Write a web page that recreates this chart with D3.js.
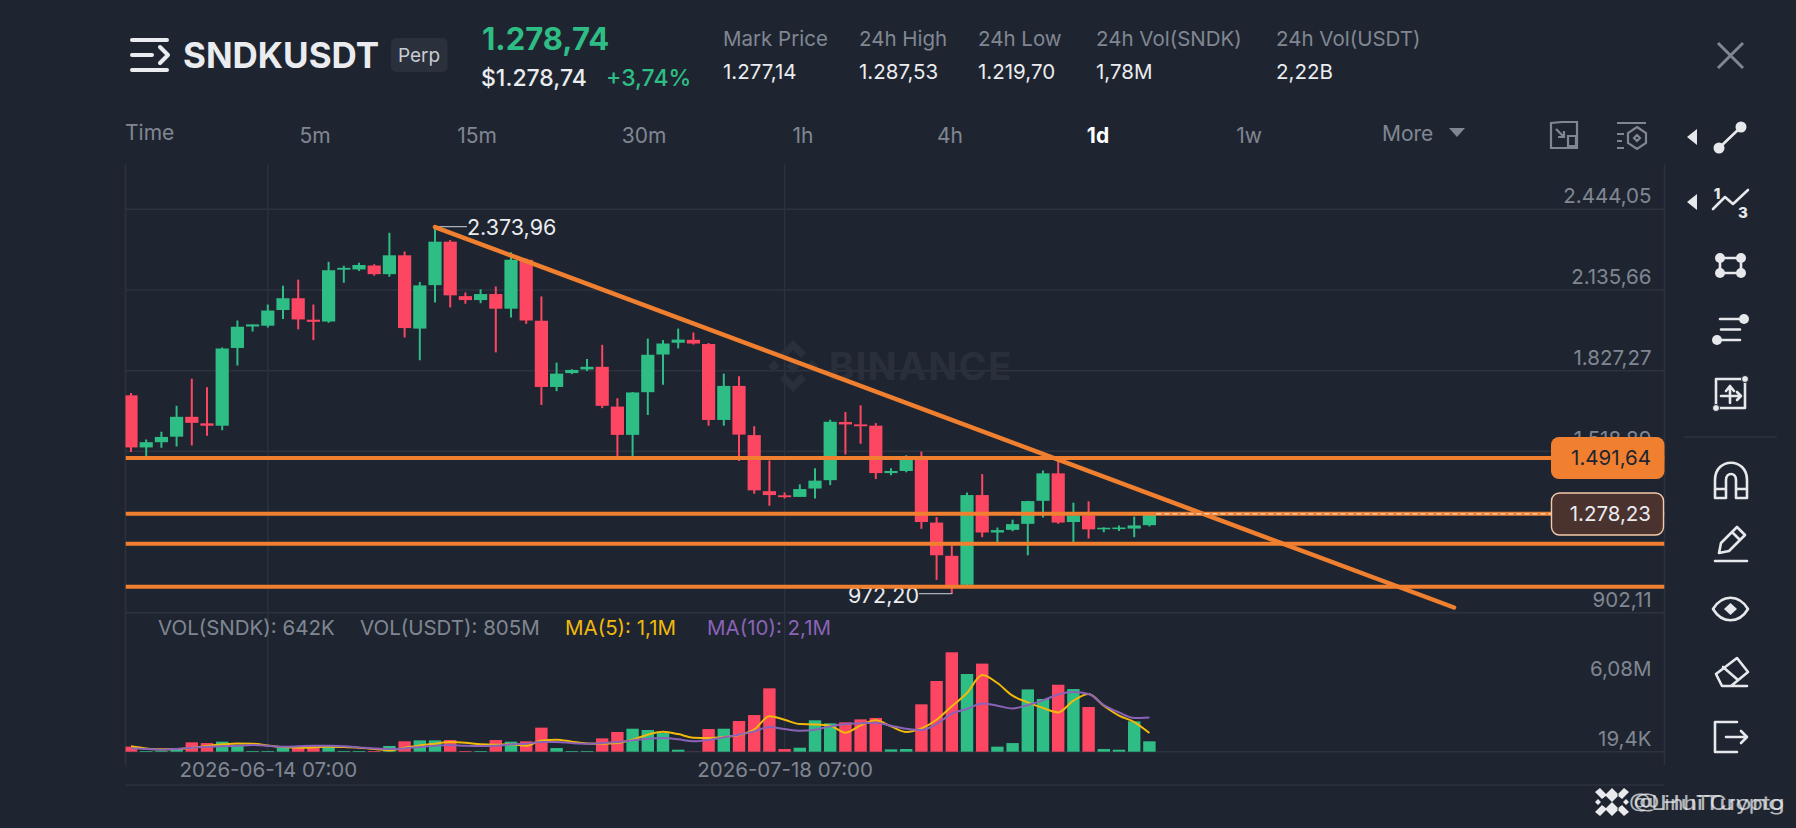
<!DOCTYPE html>
<html>
<head>
<meta charset="utf-8">
<script src="https://cdn.jsdelivr.net/npm/d3@7/dist/d3.min.js"></script>
<style>
  html, body { margin: 0; padding: 0; background: #1f2530; overflow: hidden; }
  text { font-family: "Inter", "Noto Sans", sans-serif; }
</style>
</head>
<body>
<script>
// candles, one per day
var opens  = [1731,1532,1552,1573,1649,1624,1615,1912,1994,1997,2057,2102,2020,2013,2211,2212,2227,2194,2266,1986,2152,2318,2110,2095,2118,2062,2249,2016,1763,1816,1830,1840,1688,1580,1743,1887,1932,1943,1927,1637,1767,1579,1365,1349,1343,1375,1407,1629,1620,1615,1434,1442,1485,1245,1118,1007,1350,1207,1217,1240,1328,1433,1247,1272,1220,1220,1222,1235];
var highs  = [1740,1562,1592,1691,1794,1762,1914,2017,2002,2078,2150,2173,2078,2241,2226,2238,2232,2352,2281,2164,2373.96,2324,2124,2136,2147,2278,2254,2109,1856,1831,1870,1924,1720,1744,1948,1942,1986,1971,1931,1814,1804,1613,1482,1360,1391,1452,1638,1667,1693,1625,1452,1502,1516,1266,1156,1360,1430,1226,1256,1328,1444,1489,1321,1326,1227,1234,1268,1285];
var lows   = [1515,1498,1531,1536,1539,1577,1598,1845,1975,1990,2023,1983,1942,2008,2161,2206,2188,2184,1952,1865,2086,2067,2081,2083,1895,2028,2004,1694,1747,1812,1824,1682,1489,1489,1656,1771,1910,1925,1615,1615,1480,1355,1309,1337,1343,1337,1388,1505,1546,1411,1426,1437,1221,1026,972.2,1004,1189,1171,1212,1120,1264,1240,1171,1184,1208,1213,1189,1230];
var closes = [1532,1552,1572,1649,1626,1615,1910,1993,2002,2055,2102,2021,2012,2209,2218,2229,2194,2266,1988,2151,2318,2113,2095,2118,2062,2249,2017,1763,1814,1828,1840,1691,1580,1742,1886,1929,1944,1929,1637,1767,1581,1368,1350,1342,1373,1405,1630,1620,1613,1434,1442,1495,1247,1120,1003,1350,1207,1216,1239,1327,1433,1245,1272,1219,1225,1226,1234,1278.74];

// volume in millions
var volumes = [.45,.08,.10,.25,.82,.76,.88,.62,.08,.08,.48,.39,.53,.48,.08,.08,.08,.51,.91,.99,.99,1.02,.08,.08,1.02,.88,.91,2.08,.33,.08,.08,1.16,1.71,1.99,1.88,1.62,.19,.03,1.96,1.99,2.65,3.16,5.45,.25,.36,2.71,2.45,2.54,2.79,2.91,.22,.25,4.08,6.08,8.54,6.68,7.57,.45,.76,5.36,4.54,5.76,5.39,3.85,.25,.19,2.62,.91];
var ma5  = [.48,.30,.22,.25,.36,.51,.65,.73,.71,.56,.42,.36,.39,.45,.42,.36,.25,.13,.36,.56,.71,.85,.79,.65,.62,.65,.53,.99,1.05,.88,.73,.71,.76,1.05,1.48,1.73,1.53,1.22,1.19,1.28,1.45,1.91,3.05,2.76,2.39,2.36,2.25,1.65,2.28,2.71,2.19,1.71,2.02,2.76,3.91,5.05,6.59,5.91,4.82,4.25,3.76,3.39,4.39,4.96,3.96,3.11,2.56,1.62];
var ma10 = [.30,.25,.19,.25,.36,.45,.48,.53,.59,.53,.45,.48,.53,.53,.48,.39,.30,.25,.30,.42,.53,.59,.53,.51,.53,.65,.71,.85,.85,.76,.71,.76,.85,.99,1.13,1.19,1.08,.91,1.02,1.25,1.48,1.76,2.13,1.96,1.82,1.91,2.19,2.39,2.45,2.51,2.25,1.99,1.88,2.39,3.28,3.68,4.16,3.96,3.73,4.02,4.42,4.93,5.14,4.96,4.02,3.39,2.91,2.96];

// axes
var priceTicks = [2444.05, 2135.66, 1827.27, 1518.89, 902.11];
var volTicks = [6.08, 0.0194];
var volTickLabels = ["6,08M", "19,4K"];
var timeTickIdx = [9, 43];
var timeTickLabels = ["2026-06-14 07:00", "2026-07-18 07:00"];

// drawn levels and trend line
var levels = [1491.64, 1278.23, 1164, 999.5];
var trendIdx = [20, 87.04];
var trendPrice = [2373.96, 920.5];

// header numbers
var statNames = ["Mark Price", "24h High", "24h Low", "24h Vol(SNDK)", "24h Vol(USDT)"];
var statValues = ["1.277,14", "1.287,53", "1.219,70", "1,78M", "2,22B"];
var statX = [723, 859, 978, 1096, 1276];
var tabNames = ["5m", "15m", "30m", "1h", "4h", "1d", "1w"];
var tabX = [315, 477, 644, 803, 950, 1098, 1249];

var green = "#2ebd85", red = "#fd4661", orange = "#f0802f", gray = "#808793", light = "#eaecef", grid = "#2c323e";
var left = 125.5, right = 1664.5;

var svg = d3.select("body").append("svg").attr("width", 1796).attr("height", 828);

var x = d3.scaleLinear().domain([0, 67]).range([131, 1149.4]);
var y = d3.scaleLinear().domain([902.11, 2444.05]).range([612.3, 208.7]);
var yVol = d3.scaleLinear().domain([0.0194, 6.08]).range([751.7, 681]);
var fmt = d3.formatLocale({decimal: ",", thousands: ".", grouping: [3], currency: ["$", ""]}).format(",.2f");

svg.append("clipPath").attr("id", "plot").append("rect")
  .attr("x", left).attr("y", 160).attr("width", right - left).attr("height", 610);

// frame + grid
var frame = svg.append("g").attr("stroke", grid).attr("stroke-width", 1.5);
frame.append("line").attr("x1", left).attr("x2", left).attr("y1", 164).attr("y2", 765);
frame.append("line").attr("x1", right).attr("x2", right).attr("y1", 164).attr("y2", 765);
frame.append("line").attr("x1", left).attr("x2", right).attr("y1", 785).attr("y2", 785);

var priceAxis = d3.axisLeft(y).tickValues(priceTicks).tickFormat(fmt).tickSize(right - left).tickPadding(-125.5);
var gPrice = svg.append("g").attr("transform", "translate(" + right + ",0)").call(priceAxis);
gPrice.select(".domain").remove();
gPrice.selectAll(".tick line").attr("stroke", grid).attr("stroke-width", 1.5);
gPrice.selectAll(".tick text").attr("x", -13).attr("dy", "-0.28em").attr("text-anchor", "end")
  .attr("fill", gray).style("font-size", "20.5px");

var volAxis = d3.axisLeft(yVol).tickValues(volTicks).tickFormat(function(d, i) { return volTickLabels[i]; }).tickSize(0);
var gVol = svg.append("g").attr("transform", "translate(" + right + ",0)").call(volAxis);
gVol.select(".domain").remove();
gVol.selectAll(".tick text").attr("x", -13).attr("dy", "-0.28em").attr("text-anchor", "end")
  .attr("fill", gray).style("font-size", "20.5px");
svg.append("line").attr("x1", left).attr("x2", right).attr("y1", yVol(0.0194)).attr("y2", yVol(0.0194))
  .attr("stroke", grid).attr("stroke-width", 1.5);

var timeAxis = d3.axisBottom(x).tickValues(timeTickIdx).tickFormat(function(d, i) { return timeTickLabels[i]; }).tickSize(0);
var gTime = svg.append("g").attr("transform", "translate(0,752)").call(timeAxis);
gTime.select(".domain").remove();
gTime.selectAll(".tick text").attr("y", 18).attr("dy", "0.32em").attr("fill", gray).style("font-size", "20.5px");
svg.selectAll("line.vgrid").data(timeTickIdx).enter().append("line").attr("class", "vgrid")
  .attr("x1", function(d) { return x(d); }).attr("x2", function(d) { return x(d); })
  .attr("y1", 164).attr("y2", 752).attr("stroke", grid).attr("stroke-width", 1.5);

// BINANCE watermark under the candles
var wm = svg.append("g").attr("fill", "#2a303b");
wm.append("path").attr("transform", "translate(793,366)")
  .attr("d", "M0,-26 L13,-13 L8,-8 L0,-16 L-8,-8 L-13,-13 Z M0,26 L13,13 L8,8 L0,16 L-8,8 L-13,13 Z M-25,0 L-19,-6 L-13,0 L-19,6 Z M25,0 L19,-6 L13,0 L19,6 Z M0,-7 L7,0 L0,7 L-7,0 Z");
wm.append("text").attr("x", 829).attr("y", 380).attr("font-size", 38).attr("font-weight", 700)
  .attr("letter-spacing", 1.5).text("BINANCE");

// candles
var plot = svg.append("g").attr("clip-path", "url(#plot)");
var colorOf = function(i) { return closes[i] >= opens[i] ? green : red; };
var idx = d3.range(opens.length);
var bodyW = 13.2;

plot.selectAll("line.wick").data(idx).enter().append("line").attr("class", "wick")
  .attr("x1", function(i) { return x(i); }).attr("x2", function(i) { return x(i); })
  .attr("y1", function(i) { return y(highs[i]); }).attr("y2", function(i) { return y(lows[i]); })
  .attr("stroke", colorOf).attr("stroke-width", 2);
plot.selectAll("rect.body").data(idx).enter().append("rect").attr("class", "body")
  .attr("x", function(i) { return x(i) - bodyW / 2; }).attr("width", bodyW)
  .attr("y", function(i) { return y(Math.max(opens[i], closes[i])); })
  .attr("height", function(i) { return Math.max(1.5, Math.abs(y(opens[i]) - y(closes[i]))); })
  .attr("fill", colorOf);

// volume
plot.selectAll("rect.vol").data(idx).enter().append("rect").attr("class", "vol")
  .attr("x", function(i) { return x(i) - bodyW / 2 + 0.4; }).attr("width", bodyW - 0.8)
  .attr("y", function(i) { return yVol(volumes[i]); })
  .attr("height", function(i) { return 751.7 - yVol(volumes[i]); })
  .attr("fill", colorOf);

var maLine = d3.line().x(function(d, i) { return x(i); }).y(function(d) { return yVol(d); }).curve(d3.curveMonotoneX);
plot.append("path").attr("d", maLine(ma5)).attr("fill", "none").attr("stroke", "#f0b90b").attr("stroke-width", 2);
plot.append("path").attr("d", maLine(ma10)).attr("fill", "none").attr("stroke", "#8a63b8").attr("stroke-width", 2);

// high / low callouts
svg.append("path").attr("d", "M" + x(20) + "," + y(2373.96) + " V226.7 H467").attr("fill", "none").attr("stroke", "#aab0b8").attr("stroke-width", 1.2);
svg.append("text").attr("x", 467).attr("y", 227).attr("dy", "0.36em").attr("fill", light).attr("font-size", 21.5).text(fmt(2373.96));
svg.append("path").attr("d", "M919,593.7 H" + x(54) + " V" + y(972.2)).attr("fill", "none").attr("stroke", "#aab0b8").attr("stroke-width", 1.2);
svg.append("text").attr("x", 919).attr("y", 595).attr("dy", "0.36em").attr("text-anchor", "end").attr("fill", light).attr("font-size", 21.5).text("972,20");

// last price dashes
svg.append("line").attr("x1", x(67) + 7).attr("x2", 1551).attr("y1", y(1278.23)).attr("y2", y(1278.23))
  .attr("stroke", "#e8d9cc").attr("stroke-width", 1.5).attr("stroke-dasharray", "5,3");

// orange drawings
var over = svg.append("g").attr("clip-path", "url(#plot)");
over.selectAll("line.level").data(levels).enter().append("line").attr("class", "level")
  .attr("x1", left).attr("x2", right).attr("y1", function(d) { return y(d); }).attr("y2", function(d) { return y(d); })
  .attr("stroke", orange).attr("stroke-width", 4);
svg.append("line").attr("x1", x(67) + 7).attr("x2", 1551).attr("y1", y(1278.23)).attr("y2", y(1278.23))
  .attr("stroke", "#f0dccb").attr("stroke-width", 1.3).attr("stroke-dasharray", "5,3");
over.append("line").attr("x1", x(trendIdx[0])).attr("y1", y(trendPrice[0])).attr("x2", x(trendIdx[1])).attr("y2", y(trendPrice[1]))
  .attr("stroke", orange).attr("stroke-width", 4.5).attr("stroke-linecap", "round");

// price tags on the axis
svg.append("rect").attr("x", 1551).attr("y", 437).attr("width", 113.5).attr("height", 42).attr("rx", 8).attr("fill", orange);
svg.append("text").attr("x", 1651).attr("y", y(1491.64)).attr("dy", "0.36em").attr("text-anchor", "end").attr("fill", "#1f2530").attr("font-size", 20.5).text(fmt(1491.64));
svg.append("rect").attr("x", 1551.5).attr("y", 493).attr("width", 112).attr("height", 42).attr("rx", 8).attr("fill", "#4a322f").attr("stroke", "#f3c9a8").attr("stroke-width", 1.4);
svg.append("text").attr("x", 1651).attr("y", y(1278.23)).attr("dy", "0.36em").attr("text-anchor", "end").attr("fill", light).attr("font-size", 20.5).text(fmt(1278.23));

// volume legend
var legend = [["VOL(SNDK): 642K", 158, gray], ["VOL(USDT): 805M", 360, gray], ["MA(5): 1,1M", 565, "#f0b90b"], ["MA(10): 2,1M", 707, "#8a63b8"]];
svg.selectAll("text.leg").data(legend).enter().append("text").attr("class", "leg")
  .attr("x", function(d) { return d[1]; }).attr("y", 628).attr("dy", "0.36em").attr("font-size", 20.5)
  .attr("fill", function(d) { return d[2]; }).text(function(d) { return d[0]; });

// header
var head = svg.append("g");
head.append("path").attr("d", "M132,40 H167 M132,70 H167 M132,55 H152 M160,47 L168,55 L160,63").attr("fill", "none")
  .attr("stroke", light).attr("stroke-width", 4).attr("stroke-linecap", "round").attr("stroke-linejoin", "round");
head.append("text").attr("x", 183).attr("y", 68).attr("font-size", 35).attr("font-weight", 700).attr("fill", light).text("SNDKUSDT");
head.append("rect").attr("x", 391).attr("y", 38).attr("width", 56.5).attr("height", 34).attr("rx", 5).attr("fill", "#2a303c");
head.append("text").attr("x", 419).attr("y", 55).attr("dy", "0.36em").attr("text-anchor", "middle").attr("font-size", 19).attr("fill", "#c8ccd2").text("Perp");
head.append("text").attr("x", 482).attr("y", 50).attr("font-size", 31).attr("font-weight", 700).attr("fill", green).text("1.278,74");
head.append("text").attr("x", 481).attr("y", 86).attr("font-size", 23).attr("font-weight", 500).attr("fill", light).text("$1.278,74");
head.append("text").attr("x", 606).attr("y", 86).attr("font-size", 23).attr("font-weight", 500).attr("fill", green).text("+3,74%");

head.selectAll("text.sn").data(statNames).enter().append("text").attr("class", "sn")
  .attr("x", function(d, i) { return statX[i]; }).attr("y", 39).attr("dy", "0.36em").attr("font-size", 20.5).attr("fill", gray).text(function(d) { return d; });
head.selectAll("text.sv").data(statValues).enter().append("text").attr("class", "sv")
  .attr("x", function(d, i) { return statX[i]; }).attr("y", 72).attr("dy", "0.36em").attr("font-size", 20.5).attr("fill", light).text(function(d) { return d; });

// interval tabs
head.append("text").attr("x", 125).attr("y", 132.5).attr("dy", "0.36em").attr("font-size", 21).attr("fill", gray).text("Time");
head.selectAll("text.tab").data(tabNames).enter().append("text").attr("class", "tab")
  .attr("x", function(d, i) { return tabX[i]; }).attr("y", 135.5).attr("dy", "0.36em").attr("text-anchor", "middle").attr("font-size", 21)
  .attr("font-weight", function(d) { return d == "1d" ? 700 : 400; })
  .attr("fill", function(d) { return d == "1d" ? "#fff" : gray; }).text(function(d) { return d; });
head.append("text").attr("x", 1382).attr("y", 133).attr("dy", "0.36em").attr("font-size", 21).attr("fill", gray).text("More");
head.append("path").attr("d", "M1449,128 H1465 L1457,137 Z").attr("fill", gray);

// close + small toolbar icons
var icG = svg.append("g").attr("fill", "none").attr("stroke", gray).attr("stroke-width", 2.2);
icG.append("path").attr("d", "M1718,43 L1743,68 M1743,43 L1718,68").attr("stroke-width", 3);
icG.append("path").attr("d", "M1562,122 H1577 V148 H1551 V123 Z M1568,136 H1576 V146 H1568 Z M1556,129 L1564,137 M1558,137 H1564 V131");
icG.append("path").attr("d", "M1617,123 H1646 M1617,134 H1624 M1617,141 H1622 M1617,148 H1624 M1637,127 L1646,133 V143 L1637,149 L1628,143 V133 Z M1637,135 L1640,138 L1637,141 L1634,138 Z");

// drawing tool rail
var rail = svg.append("g").attr("fill", "none").attr("stroke", "#e6e8eb").attr("stroke-width", 2.6).attr("stroke-linecap", "round").attr("stroke-linejoin", "round");
var railFill = svg.append("g").attr("fill", "#e6e8eb");
railFill.append("path").attr("d", "M1697,129 V145 L1687,137 Z M1697,194 V210 L1687,202 Z");
rail.append("path").attr("d", "M1719,148 L1741,127");
railFill.append("circle").attr("cx", 1719).attr("cy", 148).attr("r", 5.5);
railFill.append("circle").attr("cx", 1741).attr("cy", 127).attr("r", 5.5);
rail.append("path").attr("d", "M1713,209 L1725,197 L1733,204 L1748,190");
railFill.append("text").attr("x", 1717).attr("y", 199).attr("text-anchor", "middle").attr("font-size", 15).attr("font-weight", 800).text("1");
railFill.append("text").attr("x", 1743).attr("y", 218).attr("text-anchor", "middle").attr("font-size", 15).attr("font-weight", 800).text("3");
rail.append("path").attr("d", "M1720,258 H1741 V273 H1720 Z");
[[1720,258],[1741,258],[1720,273],[1741,273]].forEach(function(p) {
  railFill.append("circle").attr("cx", p[0]).attr("cy", p[1]).attr("r", 5);
});
rail.append("path").attr("d", "M1720,319 H1744 M1721,329.5 H1740 M1717,340 H1740");
railFill.append("circle").attr("cx", 1744).attr("cy", 319).attr("r", 5);
railFill.append("circle").attr("cx", 1717).attr("cy", 340).attr("r", 5);
rail.append("path").attr("d", "M1716,379 H1745 V408 H1716 Z M1730,387 V403 M1721,396 H1741 M1726,391 L1730,386 L1734,391 M1737,392 L1741,396 L1737,400");
railFill.append("circle").attr("cx", 1745).attr("cy", 379).attr("r", 3.5).attr("stroke", "#1f2530");
railFill.append("circle").attr("cx", 1716).attr("cy", 408).attr("r", 3.5).attr("stroke", "#1f2530");
svg.append("line").attr("x1", 1684).attr("x2", 1777).attr("y1", 437).attr("y2", 437).attr("stroke", grid).attr("stroke-width", 1.5);
rail.append("path").attr("d", "M1715,498 V480 C1715,457 1747,457 1747,480 V498 H1736 V480 C1736,472 1726,472 1726,480 V498 Z M1715,489 H1726 M1736,489 H1747");
rail.append("path").attr("d", "M1715,561 H1747 M1719,553 L1721,543 L1737,527 L1745,535 L1729,551 Z M1732,532 L1740,540");
rail.append("path").attr("d", "M1713,609 C1722,594 1739,594 1748,609 C1739,624 1722,624 1713,609 Z");
railFill.append("path").attr("d", "M1730.5,603 L1737,609 L1730.5,615 L1724,609 Z");
rail.append("path").attr("d", "M1716,674 L1737,658 L1748,672 L1731,686 H1722 Z M1723,667 L1738,680 M1731,686 H1747");
rail.append("path").attr("d", "M1737,722 H1715 V752 H1737 M1726,737 H1747 M1741,731 L1747,737 L1741,743");

// share watermark, two captions laid over each other in the source
var share = svg.append("g").attr("fill", "#e8eaed");
share.append("path").attr("transform", "translate(1612,802)")
  .attr("d", "M0,-14 L7,-7 L0,0 L-7,-7 Z M0,14 L7,7 L0,0 L-7,7 Z M-10,-3 L-17,-10 L-12,-14 L-5,-7 Z M10,-3 L17,-10 L12,-14 L5,-7 Z M-10,3 L-17,10 L-12,14 L-5,7 Z M10,3 L17,10 L12,14 L5,7 Z M-17,0 L-14,-3 L-11,0 L-14,3 Z M17,0 L14,-3 L11,0 L14,3 Z");
share.append("text").attr("x", 1629).attr("y", 803).attr("dy", "0.36em").attr("font-size", 20).attr("textLength", 155).attr("lengthAdjust", "spacingAndGlyphs").attr("fill-opacity", 0.75).text("@LinhTCrypto");
share.append("text").attr("x", 1633).attr("y", 803).attr("dy", "0.36em").attr("font-size", 20).attr("textLength", 152).attr("lengthAdjust", "spacingAndGlyphs").attr("fill-opacity", 0.75).text("@HuiTuong");
</script>
</body>
</html>
